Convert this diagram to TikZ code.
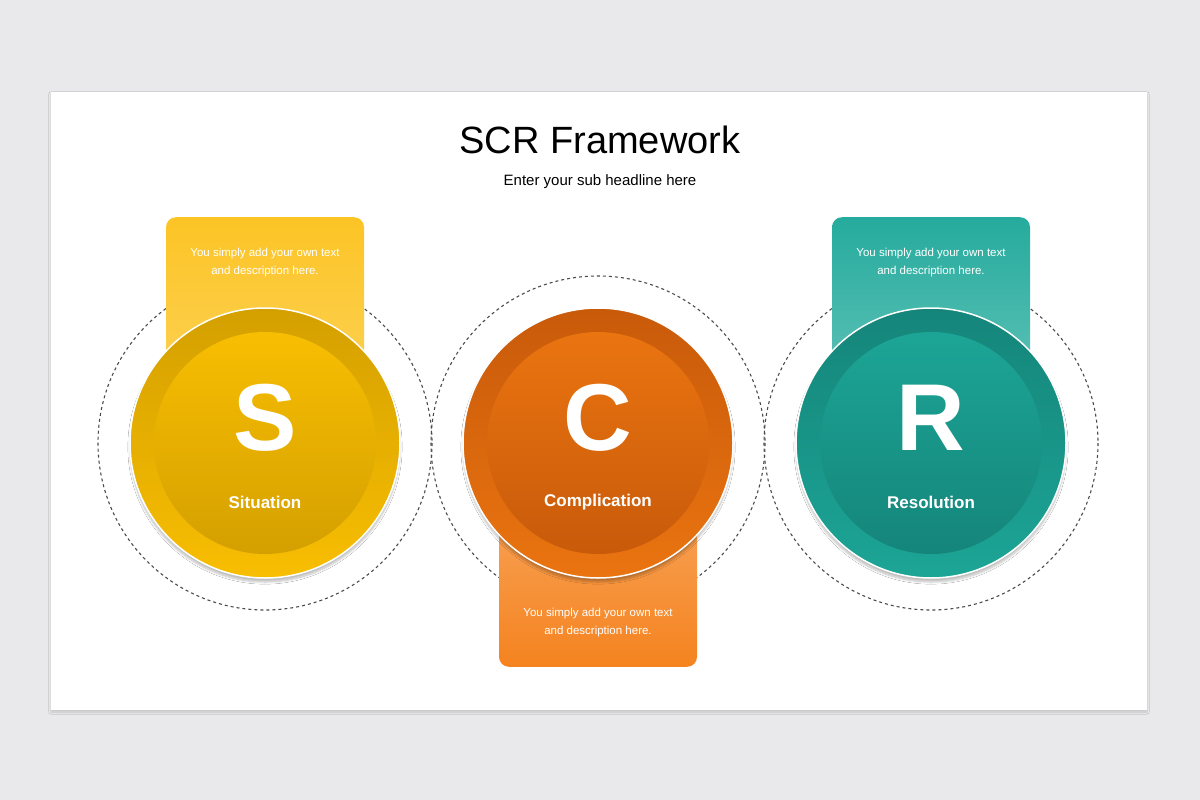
\documentclass[tikz,border=0pt]{standalone}
\usepackage{fontspec}
\setmainfont{Liberation Sans}
\usetikzlibrary{shadows.blur}
\definecolor{bg}{HTML}{E9E8EA}
\definecolor{yA}{HTML}{F8BE02}\definecolor{yB}{HTML}{D4A000}\definecolor{yR}{HTML}{FCC425}
\definecolor{oA}{HTML}{EA7410}\definecolor{oB}{HTML}{C85A0A}\definecolor{oR}{HTML}{F5831F}
\definecolor{tA}{HTML}{1CA596}\definecolor{tB}{HTML}{15857A}\definecolor{tR}{HTML}{25AB9D}
\tikzset{
 dash ring/.style={draw=black!70,dashed,line width=1.1pt},
 outer/.style={circle,minimum size=270pt,inner sep=0,draw=white,line width=1.5pt,blur shadow={shadow blur steps=8,shadow xshift=0pt,shadow yshift=-4pt,shadow opacity=25}},
 inner/.style={circle,minimum size=222pt,inner sep=0},
 card/.style={rounded corners=10pt,minimum width=198pt,inner sep=0},
 cardtxt/.style={text=white,font=\fontsize{11.5}{18}\selectfont,align=center},
 letter/.style={text=white,font=\fontsize{95}{95}\selectfont\bfseries},
 lab/.style={text=white,font=\fontsize{17}{20}\selectfont\bfseries}
}
\begin{document}
\begin{tikzpicture}[x=1pt,y=-1pt]
\useasboundingbox (0,0) rectangle (1200,800);
\fill[bg] (0,0) rectangle (1200,800);
\fill[white,blur shadow={shadow blur steps=6,shadow opacity=15,shadow xshift=0pt,shadow yshift=-2pt}] (51,92) rectangle (1147,710);
\node[font=\fontsize{38}{40}\selectfont] (title) at (600,140) {SCR Framework};
\node[font=\fontsize{15}{18}\selectfont] (sub) at (600,182) {Enter your sub headline here};
% dashed rings
\draw[dash ring] (265,443) circle (167);
\draw[dash ring] (598,443) circle (167);
\draw[dash ring] (931,443) circle (167);
% cards
\node[card,minimum height=160pt,anchor=north,top color=yR,bottom color=yR!80!white] (cs) at (265,217) {};
\node[card,minimum height=160pt,anchor=south,top color=oR!75!white,bottom color=oR] (cc) at (598,667) {};
\node[card,minimum height=160pt,anchor=north,top color=tR,bottom color=tR!75!white] (cr) at (931,217) {};
\node[cardtxt] (ts) at (265,263) {You simply add your own text\\and description here.};
\node[cardtxt] (tc) at (598,623) {You simply add your own text\\and description here.};
\node[cardtxt] (tr) at (931,263) {You simply add your own text\\and description here.};
% circles
\node[outer,top color=yB,bottom color=yA] (os) at (265,443) {};
\node[inner,top color=yA,bottom color=yB] (is) at (265,443) {};
\node[outer,top color=oB,bottom color=oA] (oc) at (598,443) {};
\node[inner,top color=oA,bottom color=oB] (ic) at (598,443) {};
\node[outer,top color=tB,bottom color=tA] (or) at (931,443) {};
\node[inner,top color=tA,bottom color=tB] (ir) at (931,443) {};
\node[letter] (ls) at (265,418) {S};
\node[letter] (lc) at (598,418) {C};
\node[letter] (lr) at (931,418) {R};
\node[lab] (ns) at (265,502) {Situation};
\node[lab] (nc) at (598,502) {Complication};
\node[lab] (nr) at (931,502) {Resolution};
\end{tikzpicture}
\end{document}
